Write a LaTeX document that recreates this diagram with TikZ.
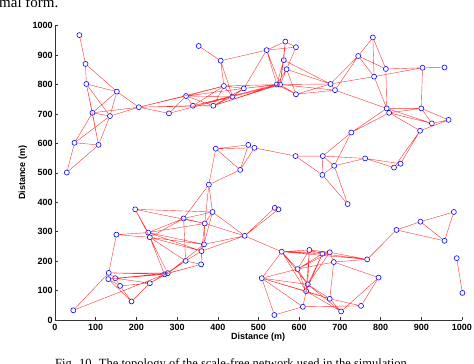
\documentclass[tikz,border=0pt]{standalone}
\usepackage{fontspec}
\setmainfont{Liberation Serif}
\setsansfont{Liberation Sans}

\begin{document}
\begin{tikzpicture}[x=0.407pt,y=0.2943pt]
        \tikzstyle{host}=[circle,draw=blue,line width=0.6pt,inner sep=0pt,minimum size=5pt]
        \tikzstyle{link}=[draw=red!80,line width=0.4pt]
        \tikzstyle{ticklabel}=[font=\sffamily\bfseries\fontsize{9}{10}\selectfont,inner sep=0pt]
        \useasboundingbox (-135.1,-149.5) rectangle (1029.5,1087.3);

        % text of the page round the figure
        \node[anchor=base west,inner sep=0pt,font=\fontsize{15}{17}\selectfont] (prev) at (-137.6,1061.8) {mal form.};
        \node[anchor=base west,inner sep=0pt,font=\fontsize{12.5}{14}\selectfont] (cap) at (0,-163) {Fig. 10. The topology of the scale-free network used in the simulation.};

        % axes
        \draw[black!80,line width=0.5pt] (0,1000) -- (0,0) -- (1000,0);
        \foreach \v in {0,100,...,1000} {
          \draw[black!80,line width=0.5pt] (\v,0) -- ++(0,9);
          \draw[black!80,line width=0.5pt] (0,\v) -- ++(7,0);
          \node[ticklabel] at (\v,-24) {\v};
          \node[ticklabel,anchor=east] at (-5,\v) {\v};
        }
        \node[ticklabel] (xlab) at (499,-58) {Distance (m)};
        \node[ticklabel,rotate=90] (ylab) at (-79,500) {Distance (m)};

        % left group
        \node[host] (l1) at (60,968) {};
        \node[host] (l2) at (75,870) {};
        \node[host] (l3) at (77,802) {};
        \node[host] (l4) at (152,776) {};
        \node[host] (l5) at (92,704) {};
        \node[host] (l6) at (135,693) {};
        \node[host] (l7) at (206,723) {};
        \node[host] (l8) at (48,602) {};
        \node[host] (l9) at (107,595) {};
        \node[host] (l10) at (29,501) {};

        % top group
        \node[host] (t1) at (280,702) {};
        \node[host] (t2) at (322,761) {};
        \node[host] (t3) at (339,728) {};
        \node[host] (t4) at (389,728) {};
        \node[host] (t5) at (353,931) {};
        \node[host] (t6) at (407,881) {};
        \node[host] (t7) at (415,795) {};
        \node[host] (t8) at (436,759) {};
        \node[host] (t9) at (464,787) {};
        \node[host] (t10) at (520,917) {};
        \node[host] (t11) at (566,946) {};
        \node[host] (t12) at (592,927) {};
        \node[host] (t13) at (562,883) {};
        \node[host] (t14) at (569,852) {};
        \node[host] (t15) at (545,800) {};
        \node[host] (t16) at (553,800) {};
        \node[host] (t17) at (592,767) {};

        % top right group
        \node[host] (r1) at (677,802) {};
        \node[host] (r2) at (688,781) {};
        \node[host] (r3) at (781,960) {};
        \node[host] (r4) at (745,897) {};
        \node[host] (r5) at (813,853) {};
        \node[host] (r6) at (784,827) {};
        \node[host] (r7) at (903,857) {};
        \node[host] (r8) at (957,858) {};
        \node[host] (r9) at (815,719) {};
        \node[host] (r10) at (821,704) {};
        \node[host] (r11) at (900,719) {};
        \node[host] (r12) at (926,668) {};
        \node[host] (r13) at (967,680) {};
        \node[host] (r14) at (897,643) {};
        \node[host] (r15) at (728,637) {};

        % middle row
        \node[host] (m1) at (395,582) {};
        \node[host] (m2) at (475,595) {};
        \node[host] (m3) at (490,585) {};
        \node[host] (m4) at (455,510) {};
        \node[host] (m5) at (591,557) {};
        \node[host] (m6) at (658,557) {};
        \node[host] (m7) at (686,524) {};
        \node[host] (m8) at (657,493) {};
        \node[host] (m9) at (762,549) {};
        \node[host] (m10) at (833,518) {};
        \node[host] (m11) at (849,531) {};
        \node[host] (m12) at (719,394) {};

        % bottom left group
        \node[host] (b1) at (378,460) {};
        \node[host] (b2) at (197,376) {};
        \node[host] (b3) at (316,345) {};
        \node[host] (b4) at (387,367) {};
        \node[host] (b5) at (368,328) {};
        \node[host] (b6) at (151,290) {};
        \node[host] (b7) at (229,297) {};
        \node[host] (b8) at (233,281) {};
        \node[host] (b9) at (366,257) {};
        \node[host] (b10) at (360,234) {};
        \node[host] (b11) at (321,201) {};
        \node[host] (b12) at (359,189) {};
        \node[host] (b13) at (132,160) {};
        \node[host] (b14) at (131,139) {};
        \node[host] (b15) at (148,142) {};
        \node[host] (b16) at (160,116) {};
        \node[host] (b17) at (269,155) {};
        \node[host] (b18) at (277,159) {};
        \node[host] (b19) at (233,125) {};
        \node[host] (b20) at (188,63) {};
        \node[host] (b21) at (45,33) {};
        \node[host] (b22) at (466,286) {};
        \node[host] (b23) at (540,381) {};
        \node[host] (b24) at (549,376) {};

        % bottom right group
        \node[host] (c1) at (557,232) {};
        \node[host] (c2) at (625,238) {};
        \node[host] (c3) at (657,225) {};
        \node[host] (c4) at (675,230) {};
        \node[host] (c5) at (685,197) {};
        \node[host] (c6) at (767,206) {};
        \node[host] (c7) at (596,173) {};
        \node[host] (c8) at (508,142) {};
        \node[host] (c9) at (621,121) {};
        \node[host] (c10) at (617,98) {};
        \node[host] (c11) at (675,72) {};
        \node[host] (c12) at (609,45) {};
        \node[host] (c13) at (752,48) {};
        \node[host] (c14) at (703,29) {};
        \node[host] (c15) at (539,17) {};
        \node[host] (c16) at (795,144) {};
        \node[host] (c17) at (839,306) {};
        \node[host] (c18) at (898,334) {};
        \node[host] (c19) at (980,367) {};
        \node[host] (c20) at (957,269) {};
        \node[host] (c21) at (987,210) {};
        \node[host] (c22) at (1001,92) {};

        % links
        \draw[link] (l1) -- (l2) (l2) -- (l3) (l2) -- (l4) (l3) -- (l4) (l3) -- (l5)
          (l3) -- (l6) (l3) -- (l9) (l4) -- (l5) (l4) -- (l6) (l4) -- (l7)
          (l5) -- (l6) (l5) -- (l7) (l5) -- (l8) (l5) -- (l9) (l6) -- (l7)
          (l6) -- (l8) (l6) -- (l9) (l8) -- (l9) (l8) -- (l10) (l10) -- (l9)
          (l7) -- (t1) (l7) -- (t2) (l7) -- (t3) (l7) -- (t4) (l7) -- (t7);
        \draw[link] (t1) -- (t2) (t1) -- (t8) (t2) -- (t3) (t2) -- (t4) (t2) -- (t7)
          (t2) -- (t8) (t2) -- (t9) (t3) -- (t4) (t3) -- (t7) (t3) -- (t8)
          (t3) -- (t15) (t4) -- (t7) (t4) -- (t8) (t4) -- (t9) (t4) -- (t15)
          (t4) -- (t16) (t5) -- (t6) (t6) -- (t10) (t6) -- (t7) (t6) -- (t8)
          (t7) -- (t8) (t7) -- (t9) (t7) -- (t15) (t8) -- (t9) (t8) -- (t16)
          (t9) -- (t10) (t9) -- (t15) (t9) -- (t16) (t10) -- (t11) (t10) -- (t12)
          (t10) -- (t15) (t10) -- (t16) (t11) -- (t12) (t11) -- (t13) (t11) -- (t16)
          (t12) -- (t14) (t13) -- (t15) (t13) -- (t16) (t13) -- (r1) (t14) -- (t15)
          (t14) -- (t16) (t14) -- (t17) (t14) -- (r1) (t15) -- (t16) (t15) -- (t17)
          (t16) -- (t17) (t16) -- (r1) (t16) -- (r2) (t17) -- (r1) (t17) -- (r2);
        \draw[link] (r1) -- (r2) (r1) -- (r4) (r2) -- (r4) (r1) -- (r6) (r2) -- (r9)
          (r3) -- (r4) (r3) -- (r5) (r3) -- (r6) (r4) -- (r5) (r4) -- (r6)
          (r5) -- (r7) (r6) -- (r7) (r7) -- (r8) (r5) -- (r9) (r6) -- (r9)
          (r7) -- (r11) (r9) -- (r10) (r9) -- (r11) (r10) -- (r11) (r9) -- (r12)
          (r10) -- (r12) (r10) -- (r14) (r11) -- (r12) (r11) -- (r13) (r12) -- (r13)
          (r13) -- (r14) (r9) -- (r15) (r10) -- (r15) (r14) -- (m11) (r14) -- (m10);
        \draw[link] (m1) -- (m2) (m1) -- (m3) (m1) -- (m4) (m2) -- (m4) (m3) -- (m4)
          (m3) -- (m5) (m5) -- (m6) (m5) -- (m8) (m6) -- (m7) (m6) -- (m8)
          (m7) -- (m8) (m6) -- (r15) (m7) -- (r15) (m7) -- (m12) (m8) -- (m12)
          (m6) -- (m9) (m7) -- (m9) (m9) -- (m10) (m9) -- (m11) (m10) -- (m11)
          (m1) -- (b1) (m4) -- (b1);
        \draw[link] (b1) -- (b3) (b1) -- (b4) (b1) -- (b5) (b2) -- (b7) (b2) -- (b8)
          (b2) -- (b4) (b2) -- (b5) (b3) -- (b5) (b3) -- (b4) (b3) -- (b7)
          (b3) -- (b8) (b3) -- (b11) (b4) -- (b5) (b4) -- (b9) (b4) -- (b22)
          (b5) -- (b9) (b5) -- (b10) (b5) -- (b7) (b5) -- (b22) (b6) -- (b7)
          (b6) -- (b8) (b6) -- (b13) (b7) -- (b8) (b7) -- (b9) (b7) -- (b10)
          (b8) -- (b9) (b8) -- (b10) (b8) -- (b11) (b8) -- (b17) (b8) -- (b18)
          (b9) -- (b10) (b9) -- (b22) (b9) -- (b18) (b10) -- (b22) (b10) -- (b11)
          (b10) -- (b12) (b11) -- (b12) (b11) -- (b18) (b11) -- (b17) (b12) -- (b18)
          (b12) -- (b17) (b13) -- (b14) (b13) -- (b15) (b13) -- (b17) (b13) -- (b18)
          (b14) -- (b15) (b14) -- (b16) (b14) -- (b17) (b15) -- (b16) (b15) -- (b17)
          (b15) -- (b18) (b15) -- (b19) (b16) -- (b19) (b16) -- (b20) (b17) -- (b18)
          (b17) -- (b19) (b18) -- (b19) (b19) -- (b20) (b20) -- (b14) (b21) -- (b13)
          (b21) -- (b18) (b22) -- (b23) (b22) -- (b24) (b22) -- (c1) (b23) -- (b24);
        \draw[link] (c1) -- (c2) (c1) -- (c3) (c1) -- (c4) (c1) -- (c6) (c1) -- (c7)
          (c1) -- (c8) (c1) -- (c9) (c1) -- (c10) (c2) -- (c3) (c2) -- (c4)
          (c2) -- (c7) (c2) -- (c9) (c2) -- (c10) (c3) -- (c4) (c3) -- (c7)
          (c3) -- (c9) (c3) -- (c10) (c3) -- (c6) (c4) -- (c5) (c4) -- (c6)
          (c4) -- (c9) (c4) -- (c7) (c5) -- (c6) (c5) -- (c7) (c5) -- (c11)
          (c5) -- (c16) (c6) -- (c17) (c7) -- (c8) (c7) -- (c9) (c7) -- (c10)
          (c8) -- (c9) (c8) -- (c10) (c8) -- (c11) (c8) -- (c12) (c8) -- (c15)
          (c9) -- (c10) (c9) -- (c11) (c9) -- (c12) (c9) -- (c14) (c10) -- (c11)
          (c10) -- (c14) (c11) -- (c14) (c11) -- (c13) (c12) -- (c13) (c12) -- (c15)
          (c13) -- (c16) (c14) -- (c16) (c17) -- (c18) (c17) -- (c20) (c18) -- (c19)
          (c18) -- (c20) (c19) -- (c20) (c21) -- (c22);
\end{tikzpicture}
\end{document}
